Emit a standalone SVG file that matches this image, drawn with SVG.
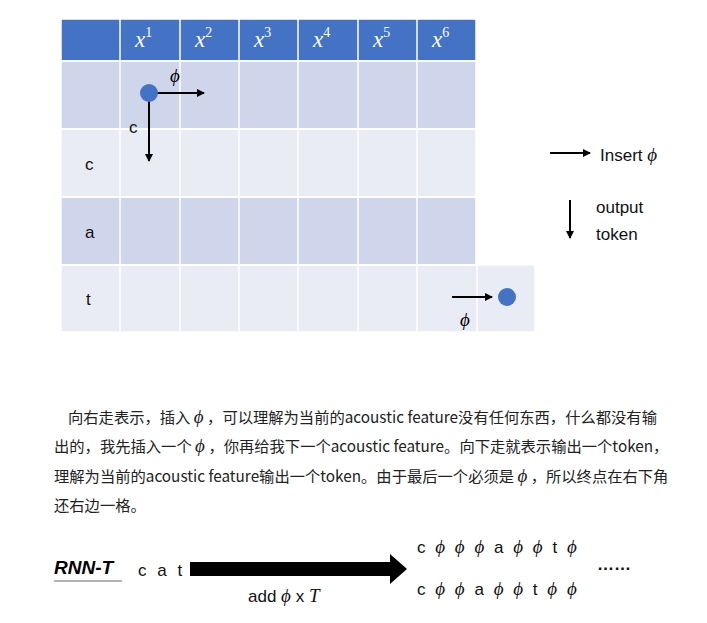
<svg xmlns="http://www.w3.org/2000/svg" width="707" height="623" viewBox="0 0 707 623">
<style>
.h{fill:#4472C4}.d{fill:#CFD5EA}.l{fill:#E9EBF5}
.t{font-family:"Liberation Sans","Noto Sans CJK SC",sans-serif;font-size:17px;fill:#111}
.m{font-family:"Liberation Serif",serif;font-style:italic;font-size:19px}
.x{font-family:"Liberation Serif",serif;font-style:italic;font-size:23px;fill:#fff}
.s{font-size:14px;font-style:normal}
.p{font-family:"Noto Sans CJK SC",sans-serif;font-size:15.3px;fill:#222}
.ln{stroke:#000;stroke-width:2;fill:none}
</style>
<defs><marker id="a" markerWidth="8" markerHeight="8" refX="7" refY="4" orient="auto" markerUnits="userSpaceOnUse"><path d="M0,0L8,4L0,8z"/></marker></defs>
<rect width="707" height="623" fill="#fff"/>
<g id="grid" stroke="#fff" stroke-width="1.5">
<rect class="h" x="61" y="19" width="415" height="42"/>
<rect class="d" x="61" y="61" width="415" height="68"/>
<rect class="l" x="61" y="129" width="415" height="68"/>
<rect class="d" x="61" y="197" width="415" height="68"/>
<rect class="l" x="61" y="265" width="474" height="67"/>
<path d="M120,19V332M180,19V332M239,19V332M298,19V332M358,19V332M417,19V332M477,265V332M61,61H476M61,129H476M61,197H476M61,265H476"/>
</g>
<g id="header">
<text x="135" y="47" class="x">x<tspan dy="-10" class="s">1</tspan></text>
<text x="195" y="47" class="x">x<tspan dy="-10" class="s">2</tspan></text>
<text x="254" y="47" class="x">x<tspan dy="-10" class="s">3</tspan></text>
<text x="313" y="47" class="x">x<tspan dy="-10" class="s">4</tspan></text>
<text x="373" y="47" class="x">x<tspan dy="-10" class="s">5</tspan></text>
<text x="432" y="47" class="x">x<tspan dy="-10" class="s">6</tspan></text>
</g>
<g id="rows" class="t">
<text x="85" y="170" class="t">c</text><text x="85" y="238" class="t">a</text><text x="86" y="305" class="t">t</text>
</g>
<g id="connectors">
<line class="ln" x1="157" y1="93" x2="204" y2="93" marker-end="url(#a)"/>
<line class="ln" x1="149" y1="100" x2="149" y2="161" marker-end="url(#a)"/>
<line class="ln" x1="452" y1="297" x2="492" y2="297" marker-end="url(#a)"/>
<line class="ln" x1="550" y1="153" x2="590" y2="153" marker-end="url(#a)"/>
<line class="ln" x1="570" y1="200" x2="570" y2="238" marker-end="url(#a)"/>
<path d="M190,562H390V554L407,569L390,584V576H190z" fill="#000"/>
</g>
<g id="start"><circle cx="149" cy="93" r="9" fill="#4472C4"/><text x="170" y="82" class="m">ϕ</text><text x="129" y="133" class="t">c</text></g>
<g id="end"><circle cx="507" cy="297" r="9" fill="#4472C4"/><text x="460" y="326" class="m">ϕ</text></g>
<g id="legend" class="t"><text x="600" y="161" class="t">Insert <tspan class="m">ϕ</tspan></text><text x="596" y="213" class="t">output</text><text x="596" y="240" class="t">token</text></g>
<g id="para" class="p">
<text x="68" y="423" class="p">向右走表示，插入 <tspan class="m" font-size="18">ϕ</tspan> ，可以理解为当前的acoustic feature没有任何东西，什么都没有输</text>
<text x="54" y="452" class="p">出的，我先插入一个 <tspan class="m" font-size="18">ϕ</tspan> ，你再给我下一个acoustic feature。向下走就表示输出一个token，</text>
<text x="54" y="482" class="p">理解为当前的acoustic feature输出一个token。由于最后一个必须是 <tspan class="m" font-size="18">ϕ</tspan> ，所以终点在右下角</text>
<text x="54" y="511" class="p">还右边一格。</text>
</g>
<g id="bottom">
<text x="54" y="574" font-family="Liberation Sans,sans-serif" font-weight="bold" font-style="italic" font-size="19">RNN-T</text>
<line x1="54" y1="581" x2="122" y2="581" stroke="#999" stroke-width="1.5"/>
<text x="138" y="576" class="t" letter-spacing="3">c a t</text>
<text x="248" y="602" class="t">add <tspan class="m">ϕ</tspan> x <tspan class="m">T</tspan></text>
<text x="417" y="553" class="t" letter-spacing="2.5">c<tspan class="m"> ϕ ϕ ϕ </tspan>a<tspan class="m"> ϕ ϕ </tspan>t<tspan class="m"> ϕ</tspan></text>
<text x="417" y="595" class="t" letter-spacing="2.5">c<tspan class="m"> ϕ ϕ </tspan>a<tspan class="m"> ϕ ϕ </tspan>t<tspan class="m"> ϕ ϕ</tspan></text>
<text x="597" y="570" class="t" font-weight="bold" font-size="17">……</text>
</g>
</svg>
